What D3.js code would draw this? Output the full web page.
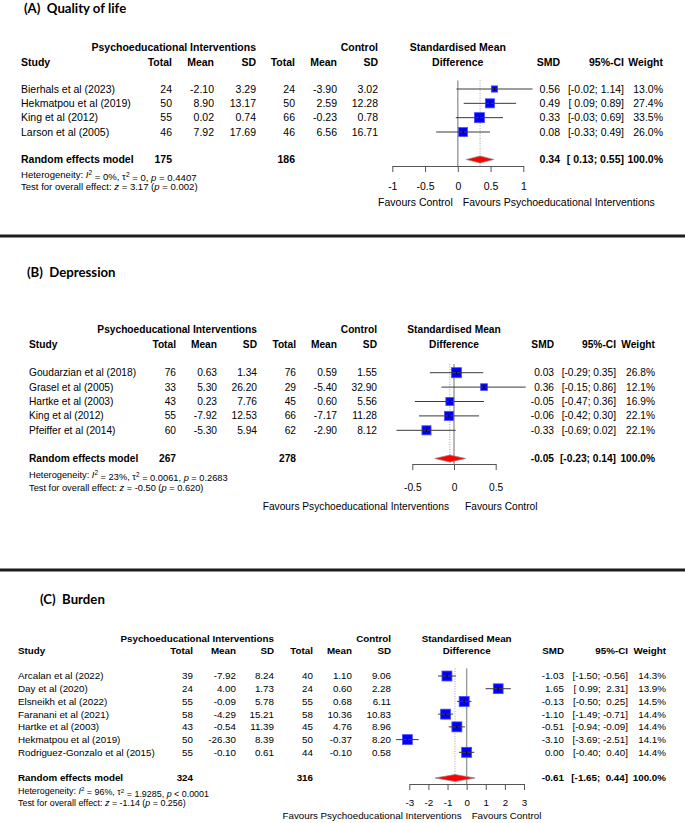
<!DOCTYPE html>
<html>
<head>
<meta charset="utf-8">
<script src="https://cdn.jsdelivr.net/npm/d3@7"></script>
<style>
  body { margin: 0; background: #fff; }
  svg { display: block; font-family: "Liberation Sans", Arial, sans-serif; }
  text { white-space: pre; }
</style>
</head>
<body>
<svg id="chart" width="685" height="823"></svg>
<script>
// ---------- (A) Quality of life
const qolStudies = ["Bierhals et al (2023)", "Hekmatpou et al (2019)", "King et al (2012)", "Larson et al (2005)"];
const qolExpTotal = [24, 50, 55, 46];
const qolExpMean = [-2.10, 8.90, 0.02, 7.92];
const qolExpSD = [3.29, 13.17, 0.74, 17.69];
const qolCtlTotal = [24, 50, 66, 46];
const qolCtlMean = [-3.90, 2.59, -0.23, 6.56];
const qolCtlSD = [3.02, 12.28, 0.78, 16.71];
const qolSMD = [0.56, 0.49, 0.33, 0.08];
const qolLower = [-0.02, 0.09, -0.03, -0.33];
const qolUpper = [1.14, 0.89, 0.69, 0.49];
const qolWeight = [13.0, 27.4, 33.5, 26.0];
const qolPooled = [0.34, 0.13, 0.55];       // smd, lower, upper
const qolTotals = [175, 186];
const qolHet = ["0%", "0", "= 0.4407"];      // I2, tau2, p
const qolTest = ["3.17", "= 0.002"];         // z, p
const qolTicks = [-1, -0.5, 0, 0.5, 1];
const qolFavours = ["Favours Control", "Favours Psychoeducational Interventions"];

// ---------- (B) Depression
const depStudies = ["Goudarzian et al (2018)", "Grasel et al (2005)", "Hartke et al (2003)", "King et al (2012)", "Pfeiffer et al (2014)"];
const depExpTotal = [76, 33, 43, 55, 60];
const depExpMean = [0.63, 5.30, 0.23, -7.92, -5.30];
const depExpSD = [1.34, 26.20, 7.76, 12.53, 5.94];
const depCtlTotal = [76, 29, 45, 66, 62];
const depCtlMean = [0.59, -5.40, 0.60, -7.17, -2.90];
const depCtlSD = [1.55, 32.90, 5.56, 11.28, 8.12];
const depSMD = [0.03, 0.36, -0.05, -0.06, -0.33];
const depLower = [-0.29, -0.15, -0.47, -0.42, -0.69];
const depUpper = [0.35, 0.86, 0.36, 0.30, 0.02];
const depWeight = [26.8, 12.1, 16.9, 22.1, 22.1];
const depPooled = [-0.05, -0.23, 0.14];
const depTotals = [267, 278];
const depHet = ["23%", "0.0061", "= 0.2683"];
const depTest = ["-0.50", "= 0.620"];
const depTicks = [-0.5, 0, 0.5];
const depFavours = ["Favours Psychoeducational Interventions", "Favours Control"];

// ---------- (C) Burden
const burStudies = ["Arcalan et al (2022)", "Day et al (2020)", "Elsneikh et al (2022)", "Faranani et al (2021)", "Hartke et al (2003)", "Hekmatpou et al (2019)", "Rodriguez-Gonzalo et al (2015)"];
const burExpTotal = [39, 24, 55, 58, 43, 50, 55];
const burExpMean = [-7.92, 4.00, -0.09, -4.29, -0.54, -26.30, -0.10];
const burExpSD = [8.24, 1.73, 5.78, 15.21, 11.39, 8.39, 0.61];
const burCtlTotal = [40, 24, 55, 58, 45, 50, 44];
const burCtlMean = [1.10, 0.60, 0.68, 10.36, 4.76, -0.37, -0.10];
const burCtlSD = [9.06, 2.28, 6.11, 10.83, 8.96, 8.20, 0.58];
const burSMD = [-1.03, 1.65, -0.13, -1.10, -0.51, -3.10, 0.00];
const burLower = [-1.50, 0.99, -0.50, -1.49, -0.94, -3.69, -0.40];
const burUpper = [-0.56, 2.31, 0.25, -0.71, -0.09, -2.51, 0.40];
const burWeight = [14.3, 13.9, 14.5, 14.4, 14.4, 14.1, 14.4];
const burPooled = [-0.61, -1.65, 0.44];
const burTotals = [324, 316];
const burHet = ["96%", "1.9285", "< 0.0001"];
const burTest = ["-1.14", "= 0.256"];
const burTicks = [-3, -2, -1, 0, 1, 2, 3];
const burFavours = ["Favours Psychoeducational Interventions", "Favours Control"];

const panels = [
  { title: "(A)  Quality of life", studies: qolStudies,
    cols: [qolExpTotal, qolExpMean, qolExpSD, qolCtlTotal, qolCtlMean, qolCtlSD],
    smd: qolSMD, lower: qolLower, upper: qolUpper, weight: qolWeight, pooled: qolPooled,
    totals: qolTotals, het: qolHet, test: qolTest, ticks: qolTicks, favours: qolFavours,
    L: { fs: 10.5, titleX: 24, titleY: 8, h1: 47, h2: 62, row0: 89, rowN: 132, sumY: 159.5,
         hetY: 175, testY: 187, axisY: 166, tickDy: 20, favY: 202, gapL: 5, gapR: 5,
         colX: [21, 172, 214, 256, 295, 337, 378], rightX: [560, 624, 663], xr: [392.3, 523.3] } },
  { title: "(B)  Depression", studies: depStudies,
    cols: [depExpTotal, depExpMean, depExpSD, depCtlTotal, depCtlMean, depCtlSD],
    smd: depSMD, lower: depLower, upper: depUpper, weight: depWeight, pooled: depPooled,
    totals: depTotals, het: depHet, test: depTest, ticks: depTicks, favours: depFavours,
    L: { fs: 10.2, titleX: 27, titleY: 272, h1: 329, h2: 344, row0: 372.7, rowN: 430.3, sumY: 458.5,
         hetY: 475, testY: 488, axisY: 464, tickDy: 23.5, favY: 506, gapL: 5, gapR: 11,
         colX: [29, 176, 217, 257, 296, 337, 377], rightX: [554, 616, 655], xr: [412.3, 495.7] } },
  { title: "(C)  Burden", studies: burStudies,
    cols: [burExpTotal, burExpMean, burExpSD, burCtlTotal, burCtlMean, burCtlSD],
    smd: burSMD, lower: burLower, upper: burUpper, weight: burWeight, pooled: burPooled,
    totals: burTotals, het: burHet, test: burTest, ticks: burTicks, favours: burFavours,
    L: { fs: 9.8, titleX: 40, titleY: 599, h1: 639, h2: 651, row0: 676, rowN: 752.3, sumY: 778,
         hetY: 791, testY: 803, axisY: 784, tickDy: 19, favY: 816, gapL: 5, gapR: 5,
         colX: [18, 193, 236, 274, 313, 352, 391], rightX: [564, 628, 666], xr: [409.3, 524] } }
];

const separators = [236, 570];

const loc = d3.formatLocale({ decimal: ".", thousands: ",", grouping: [3], currency: ["", ""], minus: "-" });
const f2 = loc.format(".2f");
const f1 = loc.format(".1f");

const svg = d3.select("#chart");

svg.selectAll(".sep")
  .data(separators)
  .enter().append("line")
    .attr("x1", 0).attr("x2", 685)
    .attr("y1", d => d).attr("y2", d => d)
    .attr("stroke", "#1c1c1c")
    .attr("stroke-width", 3);

function padTo(strs) {
  const w = d3.max(strs, s => s.length);
  return strs.map(s => " ".repeat(w - s.length) + s);
}

function txt(g, x, y, s, opts) {
  opts = opts || {};
  return g.append("text")
    .attr("x", x).attr("y", y)
    .attr("dy", "0.35em")
    .attr("text-anchor", opts.anchor || "end")
    .attr("font-weight", opts.bold ? "bold" : null)
    .attr("font-size", opts.fs)
    .attr("fill", "#000")
    .text(s);
}

panels.forEach(p => {
  const L = p.L;
  const g = svg.append("g").attr("class", "panel");
  const fs = L.fs;
  const n = p.studies.length;

  // title
  g.append("text")
    .attr("x", L.titleX).attr("y", L.titleY).attr("dy", "0.35em")
    .attr("font-family", "Lato, 'Open Sans', sans-serif")
    .attr("font-weight", "bold")
    .attr("font-size", 13.2)
    .text(p.title);

  const x = d3.scaleLinear().domain(d3.extent(p.ticks)).range(L.xr);
  const y = d3.scalePoint().domain(d3.range(n)).range([L.row0, L.rowN]);
  const size = d3.scaleSqrt().domain([0, d3.max(p.weight)]).range([0, 10]);
  const mid = (L.xr[0] + L.xr[1]) / 2;

  // headers
  txt(g, L.colX[3], L.h1, "Psychoeducational Interventions", { bold: true, fs });
  txt(g, L.colX[6], L.h1, "Control", { bold: true, fs });
  txt(g, L.colX[0], L.h2, "Study", { bold: true, fs, anchor: "start" });
  ["Total", "Mean", "SD", "Total", "Mean", "SD"].forEach((h, i) => txt(g, L.colX[i + 1], L.h2, h, { bold: true, fs }));
  txt(g, mid, L.h1, "Standardised Mean", { bold: true, fs, anchor: "middle" });
  txt(g, mid, L.h2, "Difference", { bold: true, fs, anchor: "middle" });
  ["SMD", "95%-CI", "Weight"].forEach((h, i) => txt(g, L.rightX[i], L.h2, h, { bold: true, fs }));

  // study rows
  p.studies.forEach((s, i) => {
    txt(g, L.colX[0], y(i), s, { fs, anchor: "start" });
    p.cols.forEach((col, c) => {
      const v = col[i];
      txt(g, L.colX[c + 1], y(i), (c % 3 === 0) ? String(v) : f2(v), { fs });
    });
  });

  // SMD / CI / weight columns
  const loS = padTo(p.lower.concat([p.pooled[1]]).map(f2));
  const hiS = padTo(p.upper.concat([p.pooled[2]]).map(f2));
  p.studies.forEach((s, i) => {
    txt(g, L.rightX[0], y(i), f2(p.smd[i]), { fs });
    txt(g, L.rightX[1], y(i), "[" + loS[i] + "; " + hiS[i] + "]", { fs });
    txt(g, L.rightX[2], y(i), f1(p.weight[i]) + "%", { fs });
  });

  // pooled row
  txt(g, L.colX[0], L.sumY, "Random effects model", { bold: true, fs, anchor: "start" });
  txt(g, L.colX[1], L.sumY, String(p.totals[0]), { bold: true, fs });
  txt(g, L.colX[4], L.sumY, String(p.totals[1]), { bold: true, fs });
  txt(g, L.rightX[0], L.sumY, f2(p.pooled[0]), { bold: true, fs });
  txt(g, L.rightX[1], L.sumY, "[" + loS[n] + "; " + hiS[n] + "]", { bold: true, fs });
  txt(g, L.rightX[2], L.sumY, "100.0%", { bold: true, fs });

  // heterogeneity + test lines
  const sfs = fs * 0.91;
  const het = g.append("text").attr("x", L.colX[0]).attr("y", L.hetY).attr("dy", "0.35em").attr("font-size", sfs);
  het.append("tspan").text("Heterogeneity: ");
  het.append("tspan").attr("font-style", "italic").text("I");
  het.append("tspan").attr("dy", "-0.45em").attr("font-size", sfs * 0.7).text("2");
  het.append("tspan").attr("dy", "0.45em").text(" = " + p.het[0] + ", τ");
  het.append("tspan").attr("dy", "-0.45em").attr("font-size", sfs * 0.7).text("2");
  het.append("tspan").attr("dy", "0.45em").text(" = " + p.het[1] + ", ");
  het.append("tspan").attr("font-style", "italic").text("p");
  het.append("tspan").text(" " + p.het[2]);

  const test = g.append("text").attr("x", L.colX[0]).attr("y", L.testY).attr("dy", "0.35em").attr("font-size", sfs);
  test.append("tspan").text("Test for overall effect: ");
  test.append("tspan").attr("font-style", "italic").text("z");
  test.append("tspan").text(" = " + p.test[0] + " (");
  test.append("tspan").attr("font-style", "italic").text("p");
  test.append("tspan").text(" " + p.test[1] + ")");

  // reference lines
  const top = L.row0 - (L.rowN - L.row0) / (n - 1) * 0.6;
  g.append("line")
    .attr("x1", x(0)).attr("x2", x(0))
    .attr("y1", top).attr("y2", L.axisY)
    .attr("stroke", "#9a9a9a").attr("stroke-width", 1.4);
  g.append("line")
    .attr("x1", x(p.pooled[0])).attr("x2", x(p.pooled[0]))
    .attr("y1", top).attr("y2", L.axisY)
    .attr("stroke", "#a0a0a0").attr("stroke-width", 1)
    .attr("stroke-dasharray", "1,1.5");

  // squares
  g.selectAll(".sq")
    .data(p.smd)
    .enter().append("rect")
      .attr("class", "sq")
      .attr("x", (d, i) => x(d) - size(p.weight[i]) / 2)
      .attr("y", (d, i) => y(i) - size(p.weight[i]) / 2)
      .attr("width", (d, i) => size(p.weight[i]))
      .attr("height", (d, i) => size(p.weight[i]))
      .attr("fill", "#0000ff")
      .attr("stroke", "#4d4dff")
      .attr("stroke-width", 0.8);

  // confidence intervals
  g.selectAll(".ci")
    .data(p.smd)
    .enter().append("line")
      .attr("class", "ci")
      .attr("x1", (d, i) => x(p.lower[i]))
      .attr("x2", (d, i) => x(p.upper[i]))
      .attr("y1", (d, i) => y(i)).attr("y2", (d, i) => y(i))
      .attr("stroke", "#3a3a3a").attr("stroke-width", 1);
  g.selectAll(".pt")
    .data(p.smd)
    .enter().append("line")
      .attr("class", "pt")
      .attr("x1", d => x(d)).attr("x2", d => x(d))
      .attr("y1", (d, i) => y(i) - 1.5).attr("y2", (d, i) => y(i) + 1.5)
      .attr("stroke", "#000").attr("stroke-width", 1);

  // pooled diamond
  const dh = 3.5;
  g.append("polygon")
    .attr("points", [
      [x(p.pooled[1]), L.sumY], [x(p.pooled[0]), L.sumY - dh],
      [x(p.pooled[2]), L.sumY], [x(p.pooled[0]), L.sumY + dh]
    ].map(q => q.join(",")).join(" "))
    .attr("fill", "#ff0000")
    .attr("stroke", "#8a8a8a")
    .attr("stroke-width", 0.7);

  // axis
  const pad = L.tickDy - 6 - 0.36 * fs;
  const ax = g.append("g")
    .attr("transform", "translate(0," + L.axisY + ")")
    .call(d3.axisBottom(x).tickValues(p.ticks).tickFormat(d => String(d))
      .tickSizeInner(6).tickSizeOuter(0).tickPadding(pad));
  ax.select(".domain").attr("stroke", "#555");
  ax.selectAll(".tick line").attr("stroke", "#555");
  ax.selectAll(".tick text")
    .attr("font-family", "\"Liberation Sans\", Arial, sans-serif")
    .attr("font-size", fs).attr("fill", "#000");

  // favours labels
  txt(g, x(0) - L.gapL, L.favY, p.favours[0], { fs });
  txt(g, x(0) + L.gapR, L.favY, p.favours[1], { fs, anchor: "start" });
});
</script>
</body>
</html>
